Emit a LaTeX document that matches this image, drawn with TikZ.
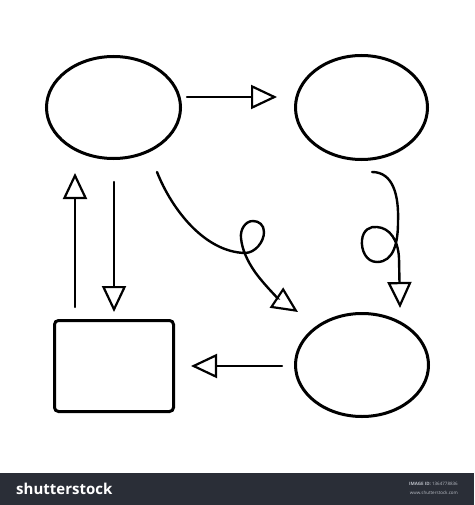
\documentclass[tikz,border=0pt]{standalone}
\usepackage{fontspec}
\newfontfamily\footfont{Open Sans}
\usetikzlibrary{shapes.geometric,arrows.meta}
\definecolor{barcol}{HTML}{2A2E37}
\definecolor{idcol}{HTML}{B8BCC4}
\tikzset{
  bubble/.style={ellipse, draw=black, line width=3pt, inner sep=0pt},
  boxnode/.style={rectangle, draw=black, line width=3pt, rounded corners=4pt, inner sep=0pt},
  arr/.style={line width=2.4pt, line cap=round, -{Triangle[open, length=26pt, width=24pt, line width=2.2pt]}},
}
\begin{document}
\begin{tikzpicture}[x=1pt,y=-1pt]
\path[use as bounding box, fill=white] (0,0) rectangle (474,505);
% nodes
\node[bubble, minimum width=134pt, minimum height=102pt] (tl) at (113.5,107.5) {};
\node[bubble, minimum width=132pt, minimum height=104pt] (tr) at (361.5,107.5) {};
\node[bubble, minimum width=133pt, minimum height=103pt] (br) at (362,365) {};
\node[boxnode, minimum width=119pt, minimum height=91pt] (bl) at (114,366) {};
% connector ends
\coordinate (a1s) at (187,97);  \coordinate (a1e) at (277,97);
\coordinate (a2s) at (75,307);  \coordinate (a2e) at (75,173);
\coordinate (a3s) at (114,182); \coordinate (a3e) at (114,312);
\coordinate (a4s) at (282,366); \coordinate (a4e) at (191,366);
\coordinate (a5s) at (157,172); \coordinate (a5e) at (298,312);
\coordinate (a6s) at (372,172); \coordinate (a6e) at (400,308);
% straight connectors
\draw[arr] (a1s) -- (a1e);
\draw[arr] (a2s) -- (a2e);
\draw[arr] (a3s) -- (a3e);
\draw[arr] (a4s) -- (a4e);
% looped connector, middle
\draw[arr] (a5s) .. controls (172,210) and (205,252) .. (245,253)
  .. controls (255,253) and (264,242) .. (264,232)
  .. controls (264,225) and (259,221) .. (253,221)
  .. controls (245,221) and (240,230) .. (241,238)
  .. controls (242,250) and (248,262) .. (255,272)
  .. controls (265,286) and (280,300) .. (a5e);
% looped connector, right
\draw[arr] (a6s) .. controls (393,172) and (399,195) .. (398,222)
  .. controls (398,242) and (394,262) .. (377,262)
  .. controls (366,262) and (361,250) .. (362,240)
  .. controls (363,230) and (370,226) .. (377,227)
  .. controls (390,228) and (398,240) .. (399,258)
  -- (a6e);
% footer bar
\fill[barcol] (0,473) rectangle (474,505);
\node[anchor=west, text=white, font=\footfont\bfseries\fontsize{15}{16}\selectfont, inner sep=0pt] (logo) at (16,489) {shutterstock};
\node[anchor=east, text=idcol, font=\footfont\fontsize{4.5}{5}\selectfont, inner sep=0pt] (imgid) at (458,484) {\textbf{IMAGE ID:} 1364778836};
\node[anchor=east, text=idcol, font=\footfont\fontsize{4.5}{5}\selectfont, inner sep=0pt] (www) at (458,493) {www.shutterstock.com};
\end{tikzpicture}
\end{document}
